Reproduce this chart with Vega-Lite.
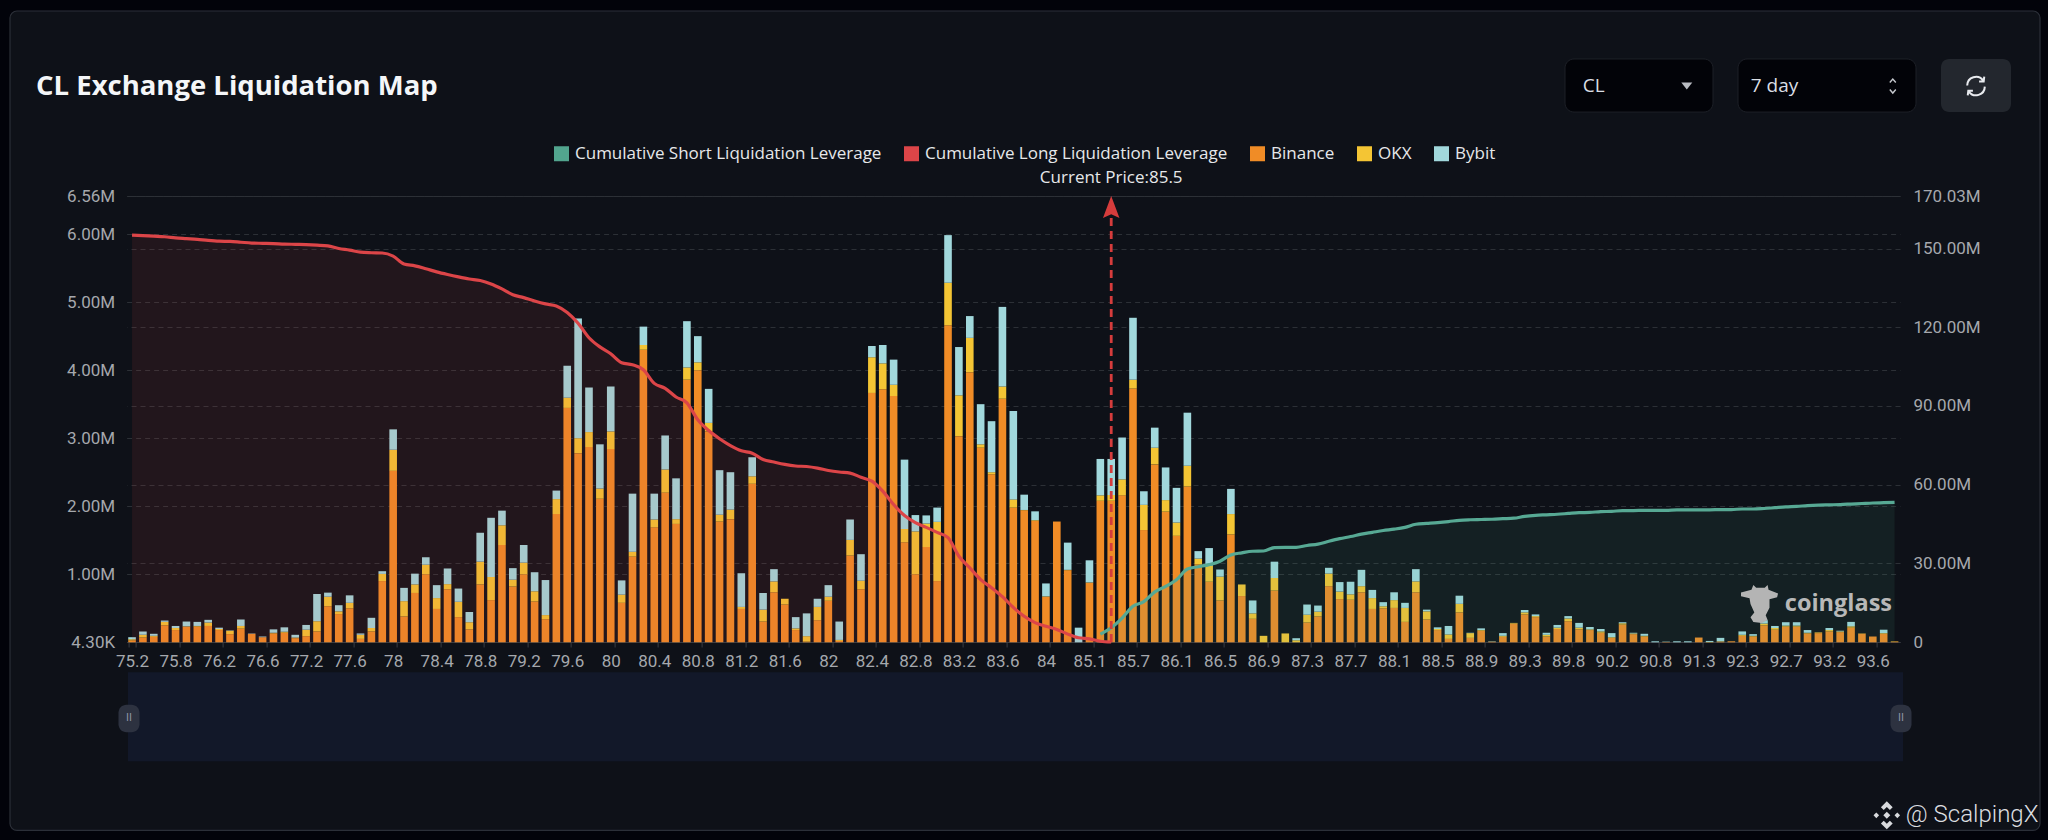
{"$schema":"https://vega.github.io/schema/vega-lite/v6.json","autosize":{"type":"none"},"width":1773.4,"height":446,"padding":{"left":126.6,"top":196,"right":148,"bottom":198},"background":"#0e1118","config":{"view":{"stroke":null},"text":{"font":"Roboto"}},
"data":{"values":[
{"p":"75.2","Binance":0.03,"OKX":0.015,"Bybit":0.03,"long":155.1},
{"p":"75.35","Binance":0.07,"OKX":0.04,"Bybit":0.05,"long":154.9},
{"p":"75.5","Binance":0.08,"OKX":0.015,"Bybit":0.03,"long":154.7},
{"p":"75.65","Binance":0.25,"OKX":0.05,"Bybit":0.02,"long":154.5},
{"p":"75.8","Binance":0.18,"OKX":0.03,"Bybit":0.03,"long":154.1},
{"p":"75.9","Binance":0.23,"OKX":0.005,"Bybit":0.07,"long":153.8},
{"p":"76","Binance":0.23,"OKX":0.01,"Bybit":0.06,"long":153.5},
{"p":"76.1","Binance":0.24,"OKX":0.05,"Bybit":0.04,"long":153.1},
{"p":"76.2","Binance":0.18,"OKX":0.015,"Bybit":0.02,"long":152.8},
{"p":"76.3","Binance":0.12,"OKX":0.05,"Bybit":0.005,"long":152.7},
{"p":"76.4","Binance":0.2,"OKX":0.04,"Bybit":0.095,"long":152.4},
{"p":"76.5","Binance":0.125,"OKX":0,"Bybit":0.005,"long":152.1},
{"p":"76.6","Binance":0.075,"OKX":0,"Bybit":0.01,"long":152},
{"p":"76.75","Binance":0.13,"OKX":0.01,"Bybit":0.05,"long":151.9},
{"p":"76.9","Binance":0.14,"OKX":0.015,"Bybit":0.065,"long":151.7},
{"p":"77.05","Binance":0.06,"OKX":0.01,"Bybit":0.04,"long":151.6},
{"p":"77.2","Binance":0.09,"OKX":0.095,"Bybit":0.07,"long":151.5},
{"p":"77.3","Binance":0.16,"OKX":0.15,"Bybit":0.4,"long":151.3},
{"p":"77.4","Binance":0.53,"OKX":0.14,"Bybit":0.06,"long":151},
{"p":"77.5","Binance":0.415,"OKX":0.04,"Bybit":0.09,"long":150},
{"p":"77.6","Binance":0.5,"OKX":0.08,"Bybit":0.11,"long":149.4},
{"p":"77.7","Binance":0.05,"OKX":0.06,"Bybit":0.02,"long":148.6},
{"p":"77.8","Binance":0.16,"OKX":0.05,"Bybit":0.15,"long":148.4},
{"p":"77.9","Binance":0.9,"OKX":0.105,"Bybit":0.04,"long":148.3},
{"p":"78","Binance":2.52,"OKX":0.31,"Bybit":0.3,"long":147.1},
{"p":"78.1","Binance":0.38,"OKX":0.225,"Bybit":0.195,"long":144.1},
{"p":"78.2","Binance":0.725,"OKX":0.126,"Bybit":0.158,"long":143.4},
{"p":"78.3","Binance":1,"OKX":0.14,"Bybit":0.11,"long":142.3},
{"p":"78.4","Binance":0.49,"OKX":0.16,"Bybit":0.19,"long":141.1},
{"p":"78.5","Binance":0.78,"OKX":0.075,"Bybit":0.23,"long":140.1},
{"p":"78.6","Binance":0.37,"OKX":0.225,"Bybit":0.195,"long":139.2},
{"p":"78.7","Binance":0.19,"OKX":0.105,"Bybit":0.15,"long":138.4},
{"p":"78.8","Binance":0.85,"OKX":0.335,"Bybit":0.425,"long":137.8},
{"p":"78.9","Binance":0.62,"OKX":0.34,"Bybit":0.87,"long":136.5},
{"p":"79","Binance":1.43,"OKX":0.29,"Bybit":0.215,"long":134.6},
{"p":"79.1","Binance":0.82,"OKX":0.1,"Bybit":0.17,"long":132.4},
{"p":"79.2","Binance":1,"OKX":0.17,"Bybit":0.26,"long":131.3},
{"p":"79.3","Binance":0.6,"OKX":0.15,"Bybit":0.28,"long":130},
{"p":"79.4","Binance":0.34,"OKX":0.06,"Bybit":0.515,"long":128.9},
{"p":"79.5","Binance":1.885,"OKX":0.22,"Bybit":0.125,"long":128.1},
{"p":"79.6","Binance":3.445,"OKX":0.15,"Bybit":0.47,"long":125.6},
{"p":"79.7","Binance":2.78,"OKX":0.22,"Bybit":1.76,"long":121.5},
{"p":"79.8","Binance":2.87,"OKX":0.22,"Bybit":0.655,"long":116},
{"p":"79.9","Binance":2.11,"OKX":0.15,"Bybit":0.65,"long":112.5},
{"p":"80","Binance":2.84,"OKX":0.26,"Bybit":0.66,"long":109.9},
{"p":"80.1","Binance":0.58,"OKX":0.12,"Bybit":0.21,"long":106.5},
{"p":"80.2","Binance":1.26,"OKX":0.07,"Bybit":0.855,"long":105.7},
{"p":"80.3","Binance":4.3,"OKX":0.07,"Bybit":0.27,"long":103.8},
{"p":"80.4","Binance":1.69,"OKX":0.115,"Bybit":0.38,"long":98.6},
{"p":"80.5","Binance":2.2,"OKX":0.34,"Bybit":0.5,"long":96.7},
{"p":"80.6","Binance":1.74,"OKX":0.07,"Bybit":0.6,"long":93.4},
{"p":"80.7","Binance":3.86,"OKX":0.18,"Bybit":0.68,"long":91.2},
{"p":"80.8","Binance":4,"OKX":0.115,"Bybit":0.385,"long":84.7},
{"p":"80.9","Binance":3.1,"OKX":0.125,"Bybit":0.5,"long":80.6},
{"p":"81","Binance":1.775,"OKX":0.1,"Bybit":0.655,"long":77.5},
{"p":"81.1","Binance":1.81,"OKX":0.14,"Bybit":0.55,"long":74.9},
{"p":"81.2","Binance":0.49,"OKX":0.03,"Bybit":0.495,"long":72.9},
{"p":"81.3","Binance":2.33,"OKX":0.11,"Bybit":0.28,"long":72},
{"p":"81.4","Binance":0.305,"OKX":0.175,"Bybit":0.245,"long":69.6},
{"p":"81.5","Binance":0.735,"OKX":0.16,"Bybit":0.18,"long":68.6},
{"p":"81.6","Binance":0.555,"OKX":0.085,"Bybit":0,"long":67.7},
{"p":"81.7","Binance":0.18,"OKX":0.025,"Bybit":0.165,"long":67.1},
{"p":"81.8","Binance":0.01,"OKX":0.08,"Bybit":0.335,"long":66.9},
{"p":"81.9","Binance":0.325,"OKX":0.195,"Bybit":0.12,"long":66.3},
{"p":"82","Binance":0.61,"OKX":0.06,"Bybit":0.17,"long":65.4},
{"p":"82.1","Binance":0.02,"OKX":0.015,"Bybit":0.27,"long":64.8},
{"p":"82.2","Binance":1.275,"OKX":0.23,"Bybit":0.3,"long":64.4},
{"p":"82.3","Binance":0.78,"OKX":0.125,"Bybit":0.39,"long":62.8},
{"p":"82.4","Binance":3.665,"OKX":0.525,"Bybit":0.165,"long":61.3},
{"p":"82.5","Binance":3.72,"OKX":0.38,"Bybit":0.27,"long":57.5},
{"p":"82.6","Binance":3.62,"OKX":0.165,"Bybit":0.37,"long":52.4},
{"p":"82.7","Binance":1.47,"OKX":0.195,"Bybit":1.02,"long":48.2},
{"p":"82.8","Binance":1,"OKX":0.63,"Bybit":0.24,"long":45.5},
{"p":"82.9","Binance":1.4,"OKX":0.345,"Bybit":0.12,"long":43.7},
{"p":"83","Binance":0.9,"OKX":0.87,"Bybit":0.21,"long":41.8},
{"p":"83.1","Binance":4.66,"OKX":0.625,"Bybit":0.7,"long":39.8},
{"p":"83.2","Binance":3.03,"OKX":0.6,"Bybit":0.71,"long":32.7},
{"p":"83.3","Binance":3.97,"OKX":0.505,"Bybit":0.32,"long":28.3},
{"p":"83.4","Binance":2.86,"OKX":0.05,"Bybit":0.59,"long":23.8},
{"p":"83.5","Binance":2.47,"OKX":0.03,"Bybit":0.75,"long":20.7},
{"p":"83.6","Binance":3.58,"OKX":0.18,"Bybit":1.17,"long":17.3},
{"p":"83.7","Binance":1.98,"OKX":0.12,"Bybit":1.3,"long":13.2},
{"p":"83.8","Binance":1.94,"OKX":0.005,"Bybit":0.225,"long":9.8},
{"p":"83.9","Binance":1.785,"OKX":0.01,"Bybit":0.13,"long":7.4},
{"p":"84","Binance":0.67,"OKX":0.005,"Bybit":0.19,"long":6},
{"p":"84.25","Binance":1.775,"OKX":0,"Bybit":0,"long":4.8},
{"p":"84.5","Binance":1.06,"OKX":0.005,"Bybit":0.4,"long":3},
{"p":"84.8","Binance":0,"OKX":0,"Bybit":0.215,"long":1.6},
{"p":"85.1","Binance":0.875,"OKX":0.005,"Bybit":0.325,"long":1.2},
{"p":"85.3","Binance":2.08,"OKX":0.08,"Bybit":0.535,"long":0.3,"short":3},
{"p":"85.5","Binance":2.08,"OKX":0.085,"Bybit":0.53,"long":0,"short":5.4},
{"p":"85.6","Binance":2.16,"OKX":0.235,"Bybit":0.615,"short":9.1},
{"p":"85.7","Binance":3.73,"OKX":0.13,"Bybit":0.91,"short":13.6},
{"p":"85.8","Binance":1.65,"OKX":0.37,"Bybit":0.2,"short":15.4},
{"p":"85.9","Binance":2.615,"OKX":0.245,"Bybit":0.295,"short":19.1},
{"p":"86","Binance":1.92,"OKX":0.17,"Bybit":0.48,"short":21.2},
{"p":"86.1","Binance":1.565,"OKX":0.195,"Bybit":0.51,"short":23.7},
{"p":"86.2","Binance":2.29,"OKX":0.305,"Bybit":0.78,"short":27.8},
{"p":"86.3","Binance":1.145,"OKX":0.085,"Bybit":0.11,"short":28.7},
{"p":"86.4","Binance":0.89,"OKX":0.235,"Bybit":0.26,"short":29.5},
{"p":"86.5","Binance":0.615,"OKX":0.35,"Bybit":0.105,"short":30.8},
{"p":"86.6","Binance":1.585,"OKX":0.3,"Bybit":0.37,"short":33.2},
{"p":"86.7","Binance":0.68,"OKX":0.17,"Bybit":0,"short":34},
{"p":"86.8","Binance":0.345,"OKX":0.08,"Bybit":0.19,"short":34.6},
{"p":"86.9","Binance":0,"OKX":0.095,"Bybit":0,"short":34.7},
{"p":"87","Binance":0.76,"OKX":0.185,"Bybit":0.24,"short":36},
{"p":"87.1","Binance":0,"OKX":0.13,"Bybit":0,"short":36.1},
{"p":"87.2","Binance":0,"OKX":0.03,"Bybit":0.03,"short":36.1},
{"p":"87.3","Binance":0.29,"OKX":0.115,"Bybit":0.15,"short":36.8},
{"p":"87.4","Binance":0.38,"OKX":0.07,"Bybit":0.09,"short":37.3},
{"p":"87.5","Binance":0.825,"OKX":0.185,"Bybit":0.085,"short":38.4},
{"p":"87.6","Binance":0.635,"OKX":0.11,"Bybit":0.14,"short":39.4},
{"p":"87.7","Binance":0.625,"OKX":0.08,"Bybit":0.185,"short":40.2},
{"p":"87.8","Binance":0.735,"OKX":0.09,"Bybit":0.24,"short":41.1},
{"p":"87.9","Binance":0.49,"OKX":0.16,"Bybit":0.12,"short":41.8},
{"p":"88","Binance":0.5,"OKX":0.03,"Bybit":0.06,"short":42.5},
{"p":"88.1","Binance":0.505,"OKX":0.115,"Bybit":0.115,"short":43},
{"p":"88.2","Binance":0.3,"OKX":0.205,"Bybit":0.075,"short":43.7},
{"p":"88.3","Binance":0.735,"OKX":0.16,"Bybit":0.18,"short":44.9},
{"p":"88.4","Binance":0.335,"OKX":0.12,"Bybit":0.025,"short":45.2},
{"p":"88.5","Binance":0.18,"OKX":0.015,"Bybit":0.025,"short":45.5},
{"p":"88.6","Binance":0.05,"OKX":0.065,"Bybit":0.125,"short":45.9},
{"p":"88.7","Binance":0.44,"OKX":0.125,"Bybit":0.12,"short":46.4},
{"p":"88.8","Binance":0.065,"OKX":0.07,"Bybit":0.005,"short":46.6},
{"p":"88.9","Binance":0.17,"OKX":0.01,"Bybit":0.025,"short":46.7},
{"p":"89","Binance":0.01,"OKX":0,"Bybit":0.005,"short":46.8},
{"p":"89.1","Binance":0.08,"OKX":0.015,"Bybit":0.04,"short":47},
{"p":"89.2","Binance":0.275,"OKX":0.01,"Bybit":0,"short":47.2},
{"p":"89.3","Binance":0.41,"OKX":0.03,"Bybit":0.035,"short":47.9},
{"p":"89.4","Binance":0.37,"OKX":0.015,"Bybit":0.025,"short":48.3},
{"p":"89.5","Binance":0.085,"OKX":0.025,"Bybit":0.03,"short":48.5},
{"p":"89.65","Binance":0.195,"OKX":0.02,"Bybit":0.04,"short":48.7},
{"p":"89.8","Binance":0.31,"OKX":0.04,"Bybit":0.035,"short":49},
{"p":"89.9","Binance":0.19,"OKX":0.025,"Bybit":0.07,"short":49.3},
{"p":"90","Binance":0.18,"OKX":0.01,"Bybit":0.035,"short":49.4},
{"p":"90.1","Binance":0.14,"OKX":0.02,"Bybit":0.035,"short":49.7},
{"p":"90.2","Binance":0.065,"OKX":0.01,"Bybit":0.06,"short":49.8},
{"p":"90.35","Binance":0.26,"OKX":0.02,"Bybit":0.015,"short":50.1},
{"p":"90.5","Binance":0.12,"OKX":0.01,"Bybit":0.01,"short":50.1},
{"p":"90.65","Binance":0.085,"OKX":0.01,"Bybit":0.03,"short":50.2},
{"p":"90.8","Binance":0,"OKX":0,"Bybit":0.015,"short":50.2},
{"p":"90.9","Binance":0.005,"OKX":0,"Bybit":0.005,"short":50.2},
{"p":"91","Binance":0,"OKX":0,"Bybit":0.015,"short":50.4},
{"p":"91.2","Binance":0,"OKX":0,"Bybit":0.015,"short":50.4},
{"p":"91.3","Binance":0.07,"OKX":0,"Bybit":0,"short":50.4},
{"p":"91.55","Binance":0,"OKX":0.005,"Bybit":0.015,"short":50.4},
{"p":"91.8","Binance":0.01,"OKX":0.005,"Bybit":0.05,"short":50.5},
{"p":"92","Binance":0.015,"OKX":0,"Bybit":0,"short":50.5},
{"p":"92.3","Binance":0.095,"OKX":0.015,"Bybit":0.05,"short":50.7},
{"p":"92.4","Binance":0.085,"OKX":0.01,"Bybit":0.025,"short":50.7},
{"p":"92.5","Binance":0.25,"OKX":0.025,"Bybit":0.05,"short":50.9},
{"p":"92.6","Binance":0.185,"OKX":0.025,"Bybit":0.03,"short":51.2},
{"p":"92.7","Binance":0.23,"OKX":0.015,"Bybit":0.05,"short":51.5},
{"p":"92.8","Binance":0.23,"OKX":0.015,"Bybit":0.05,"short":51.7},
{"p":"92.9","Binance":0.13,"OKX":0.01,"Bybit":0.04,"short":52},
{"p":"93","Binance":0.135,"OKX":0.01,"Bybit":0,"short":52.2},
{"p":"93.2","Binance":0.16,"OKX":0.02,"Bybit":0.03,"short":52.3},
{"p":"93.3","Binance":0.15,"OKX":0.01,"Bybit":0.01,"short":52.4},
{"p":"93.4","Binance":0.215,"OKX":0.02,"Bybit":0.065,"short":52.6},
{"p":"93.5","Binance":0.125,"OKX":0.005,"Bybit":0,"short":52.8},
{"p":"93.6","Binance":0.085,"OKX":0,"Bybit":0,"short":53},
{"p":"93.7","Binance":0.125,"OKX":0.01,"Bybit":0.05,"short":53.1},
{"p":"93.8","Binance":0.01,"OKX":0.005,"Bybit":0,"short":53.2}
]},
"encoding":{"x":{"field":"p","type":"nominal","scale":{"type":"band","paddingInner":0.3,"paddingOuter":0.15,"domain":["75.2","75.35","75.5","75.65","75.8","75.9","76","76.1","76.2","76.3","76.4","76.5","76.6","76.75","76.9","77.05","77.2","77.3","77.4","77.5","77.6","77.7","77.8","77.9","78","78.1","78.2","78.3","78.4","78.5","78.6","78.7","78.8","78.9","79","79.1","79.2","79.3","79.4","79.5","79.6","79.7","79.8","79.9","80","80.1","80.2","80.3","80.4","80.5","80.6","80.7","80.8","80.9","81","81.1","81.2","81.3","81.4","81.5","81.6","81.7","81.8","81.9","82","82.1","82.2","82.3","82.4","82.5","82.6","82.7","82.8","82.9","83","83.1","83.2","83.3","83.4","83.5","83.6","83.7","83.8","83.9","84","84.25","84.5","84.8","85.1","85.3","85.5","85.6","85.7","85.8","85.9","86","86.1","86.2","86.3","86.4","86.5","86.6","86.7","86.8","86.9","87","87.1","87.2","87.3","87.4","87.5","87.6","87.7","87.8","87.9","88","88.1","88.2","88.3","88.4","88.5","88.6","88.7","88.8","88.9","89","89.1","89.2","89.3","89.4","89.5","89.65","89.8","89.9","90","90.1","90.2","90.35","90.5","90.65","90.8","90.9","91","91.2","91.3","91.55","91.8","92","92.3","92.4","92.5","92.6","92.7","92.8","92.9","93","93.2","93.3","93.4","93.5","93.6","93.7","93.8"]},"axis":{"title":null,"values":["75.2","75.8","76.2","76.6","77.2","77.6","78","78.4","78.8","79.2","79.6","80","80.4","80.8","81.2","81.6","82","82.4","82.8","83.2","83.6","84","85.1","85.7","86.1","86.5","86.9","87.3","87.7","88.1","88.5","88.9","89.3","89.8","90.2","90.8","91.3","92.3","92.7","93.2","93.6"],"labelAngle":0,"labelOverlap":false,"labelFont":"Roboto","labelFontSize":17,"labelColor":"#a5a8ad","labelPadding":6,"tickBand":"extent","tickSize":5,"tickColor":"#3a3d44","domainColor":"#3a3d44","grid":false}}},
"layer":[
{"layer":[
{"transform":[{"fold":["Binance","OKX","Bybit"]},{"window":[{"op":"row_number","as":"rank"}],"groupby":["p"]}],"mark":{"type":"bar"},"encoding":{"y":{"field":"value","type":"quantitative","stack":"zero","scale":{"domain":[0.0043,6.56],"nice":false,"zero":false},"axis":{"orient":"left","title":null,"values":[0.0043,1,2,3,4,5,6,6.56],"labelExpr":"datum.value<0.01?'4.30K':format(datum.value,'.2f')+'M'","labelFont":"Roboto","labelFontSize":17,"labelColor":"#a5a8ad","labelPadding":12,"ticks":false,"domain":false,"grid":true,"gridDash":[5,4],"gridColor":"#2c3036"}},"color":{"field":"key","type":"nominal","scale":{"domain":["Cumulative Short Liquidation Leverage","Cumulative Long Liquidation Leverage","Binance","OKX","Bybit"],"range":["#52a58e","#dc4548","#f08c26","#f4c534","#a1d8dc"]},"legend":{"title":null,"orient":"none","legendX":426.4,"legendY":-51,"direction":"horizontal","columns":5,"symbolType":"square","symbolSize":225,"symbolStrokeWidth":0,"labelFont":"Open Sans","labelFontSize":17,"labelLimit":500,"labelColor":"#e6e8ea","labelOffset":5,"columnPadding":21,"padding":0}},"order":{"field":"rank","type":"quantitative"}}},
{"data":{"values":[{"n":"slider"}]},"mark":{"type":"rect","width":1775,"color":"#121829","xOffset":-857.3},"encoding":{"x":{"datum":"93.6"},"y":{"datum":-0.441},"y2":{"datum":-1.75}}},
{"data":{"values":[{"n":"frame"}]},"mark":{"type":"rect","width":2090,"filled":false,"stroke":"#02030a","strokeWidth":60,"cornerRadius":36,"xOffset":-847.8},"encoding":{"x":{"datum":"93.6"},"y":{"datum":9.72},"y2":{"datum":-3.206}}},
{"data":{"values":[{"n":"border"}]},"mark":{"type":"rect","width":2030,"filled":false,"stroke":"#2b2f38","strokeWidth":1.2,"cornerRadius":7,"xOffset":-847.8},"encoding":{"x":{"datum":"93.6"},"y":{"datum":9.279},"y2":{"datum":-2.765}}},
{"data":{"values":[{"t":"CL Exchange Liquidation Map"}]},"mark":{"type":"text","align":"left","font":"Open Sans","fontSize":27.5,"fontWeight":700,"color":"#f4f6f8","dx":-96},"encoding":{"x":{"datum":"75.2"},"y":{"datum":8.16},"text":{"field":"t"}}},
{"data":{"values":[{"n":"symbol box"}]},"mark":{"type":"rect","width":148,"fill":"#020308","stroke":"#1d2027","cornerRadius":9,"xOffset":-233.8},"encoding":{"x":{"datum":"93.6"},"y":{"datum":8.574},"y2":{"datum":7.794}}},
{"data":{"values":[{"n":"range box"}]},"mark":{"type":"rect","width":178,"fill":"#020308","stroke":"#1d2027","cornerRadius":9,"xOffset":-45.8},"encoding":{"x":{"datum":"93.6"},"y":{"datum":8.574},"y2":{"datum":7.794}}},
{"data":{"values":[{"n":"refresh box"}]},"mark":{"type":"rect","width":70,"fill":"#23272e","cornerRadius":8,"xOffset":103.2},"encoding":{"x":{"datum":"93.6"},"y":{"datum":8.574},"y2":{"datum":7.794}}},
{"data":{"values":[{"t":"CL"}]},"mark":{"type":"text","align":"left","font":"Open Sans","fontSize":19,"color":"#d9dee4","dx":-290},"encoding":{"x":{"datum":"93.6"},"y":{"datum":8.176},"text":{"field":"t"}}},
{"data":{"values":[{"t":"7 day"}]},"mark":{"type":"text","align":"left","font":"Open Sans","fontSize":19,"color":"#d9dee4","dx":-122},"encoding":{"x":{"datum":"93.6"},"y":{"datum":8.176},"text":{"field":"t"}}},
{"data":{"values":[{"n":"caret"}]},"mark":{"type":"point","filled":true,"opacity":1,"color":"#b9bcc2","size":400,"shape":"M-0.55,-0.35 L0.55,-0.35 L0,0.35 Z","xOffset":-186},"encoding":{"x":{"datum":"93.6"},"y":{"datum":8.176}}},
{"data":{"values":[{"n":"stepper"}]},"mark":{"type":"point","filled":false,"opacity":1,"color":"#c5c8cd","strokeWidth":1.4,"size":400,"shape":"M-0.3,-0.35 L0,-0.7 L0.3,-0.35 M-0.3,0.35 L0,0.7 L0.3,0.35","xOffset":20},"encoding":{"x":{"datum":"93.6"},"y":{"datum":8.176}}},
{"data":{"values":[{"n":"refresh"}]},"mark":{"type":"point","filled":false,"opacity":1,"color":"#e8eaee","strokeWidth":2,"size":484,"shape":"M-0.8,-0.05 A0.8,0.8 0 0 1 0.65,-0.5 M0.75,-0.85 L0.7,-0.42 L0.28,-0.42 M0.8,0.05 A0.8,0.8 0 0 1 -0.65,0.5 M-0.75,0.85 L-0.7,0.42 L-0.28,0.42","xOffset":103.2},"encoding":{"x":{"datum":"93.6"},"y":{"datum":8.176}}},
{"data":{"values":[{"n":"handle left"}]},"mark":{"type":"rect","width":21,"fill":"#2d3240","cornerRadius":8,"xOffset":-1743.8},"encoding":{"x":{"datum":"93.6"},"y":{"datum":-0.919},"y2":{"datum":-1.324}}},
{"data":{"values":[{"n":"handle right"}]},"mark":{"type":"rect","width":21,"fill":"#2d3240","cornerRadius":8,"xOffset":28.2},"encoding":{"x":{"datum":"93.6"},"y":{"datum":-0.919},"y2":{"datum":-1.324}}},
{"data":{"values":[{"t":"II"}]},"mark":{"type":"text","font":"Roboto","fontSize":11,"color":"#8f95a3","dx":-1743.8},"encoding":{"x":{"datum":"93.6"},"y":{"datum":-1.118},"text":{"field":"t"}}},
{"data":{"values":[{"t":"II"}]},"mark":{"type":"text","font":"Roboto","fontSize":11,"color":"#8f95a3","dx":28.2},"encoding":{"x":{"datum":"93.6"},"y":{"datum":-1.118},"text":{"field":"t"}}},
{"data":{"values":[{"n":"diamond"}]},"mark":{"type":"point","filled":true,"opacity":1,"color":"#d8dadd","size":784,"shape":"M0,-1 L0.42,-0.58 L0.22,-0.38 L0,-0.6 L-0.22,-0.38 L-0.42,-0.58 Z M0,1 L0.42,0.58 L0.22,0.38 L0,0.6 L-0.22,0.38 L-0.42,0.58 Z M0,-0.25 L0.25,0 L0,0.25 L-0.25,0 Z M-0.75,-0.2 L-0.55,0 L-0.75,0.2 L-0.95,0 Z M0.75,-0.2 L0.95,0 L0.75,0.2 L0.55,0 Z","xOffset":14},"encoding":{"x":{"datum":"93.6"},"y":{"datum":-2.544}}},
{"data":{"values":[{"t":"@ ScalpingX"}]},"mark":{"type":"text","align":"left","font":"Roboto","fontWeight":300,"fontSize":24,"color":"#dcdee0","dx":33},"encoding":{"x":{"datum":"93.6"},"y":{"datum":-2.544},"text":{"field":"t"}}}
]},
{"layer":[
{"mark":{"type":"area","color":"#dc4548","opacity":0.1,"interpolate":"monotone"},"encoding":{"y":{"field":"long","type":"quantitative","scale":{"domain":[0,170.03],"nice":false,"zero":false},"axis":{"orient":"right","title":null,"values":[0,30,60,90,120,150,170.03],"labelExpr":"datum.value==0?'0':format(datum.value,'.2f')+'M'","labelFont":"Roboto","labelFontSize":17,"labelColor":"#a5a8ad","labelPadding":13,"ticks":false,"domain":false,"grid":true,"gridDash":[5,4],"gridColor":"#2c3036"}}}},
{"mark":{"type":"area","color":"#52a58e","opacity":0.1,"interpolate":"monotone"},"encoding":{"y":{"field":"short","type":"quantitative"}}},
{"mark":{"type":"line","color":"#dc4548","strokeWidth":3.2,"interpolate":"monotone"},"encoding":{"y":{"field":"long","type":"quantitative"}}},
{"mark":{"type":"line","color":"#57a994","strokeWidth":3.2,"interpolate":"monotone"},"encoding":{"y":{"field":"short","type":"quantitative"}}},
{"data":{"values":[{"n":"price"}]},"mark":{"type":"rule","color":"#d63c3c","strokeWidth":2.8,"strokeDash":[8,5]},"encoding":{"x":{"datum":"85.5"},"y":{"datum":0},"y2":{"datum":163}}},
{"data":{"values":[{"n":"price"}]},"mark":{"type":"point","filled":true,"opacity":1,"color":"#d63c3c","size":484,"shape":"M0,-1 L0.75,1 L0,0.65 L-0.75,1 Z"},"encoding":{"x":{"datum":"85.5"},"y":{"datum":165.8}}},
{"data":{"values":[{"t":"Current Price:85.5"}]},"mark":{"type":"text","font":"Open Sans","fontSize":17,"color":"#e6e8ea","dy":-18},"encoding":{"x":{"datum":"85.5"},"y":{"datum":170.03},"text":{"field":"t"}}},
{"data":{"values":[{"n":"logo"}]},"mark":{"type":"point","filled":true,"opacity":1,"color":"#b4b4b4","size":1444,"shape":"M-0.35,-1 L-0.2,-0.85 L0.25,-0.85 L0.4,-1 L0.45,-0.75 L0.95,-0.55 L0.9,-0.35 L0.5,-0.25 L0.5,0.2 L0.3,0.6 L0.4,0.85 L0.1,1 L-0.35,0.95 L-0.5,0.7 L-0.3,0.45 L-0.5,0 L-0.55,-0.3 L-1,-0.4 L-1,-0.6 L-0.45,-0.75 Z","xOffset":-112.8},"encoding":{"x":{"datum":"93.6"},"y":{"datum":14.5}}},
{"data":{"values":[{"t":"coinglass"}]},"mark":{"type":"text","align":"left","font":"Open Sans","fontWeight":700,"fontSize":23.5,"color":"#b8b8b8","dx":-88},"encoding":{"x":{"datum":"93.6"},"y":{"datum":14.5},"text":{"field":"t"}}}
]}
],"resolve":{"scale":{"y":"independent"},"axis":{"y":"independent"}}}
